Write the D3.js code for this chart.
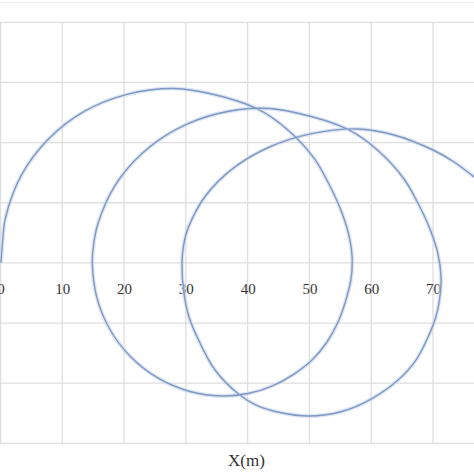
<!DOCTYPE html>
<html>
<head>
<meta charset="utf-8">
<script src="https://cdn.jsdelivr.net/npm/d3@7"></script>
<style>
  html, body { margin: 0; padding: 0; background: #ffffff; }
  svg { display: block; }
</style>
</head>
<body>
<svg id="chart" width="474" height="474"></svg>
<script>
// ---- data ----
const xTickValues = [0, 10, 20, 30, 40, 50, 60, 70];
const xTickLabels = ["0", "10", "20", "30", "40", "50", "60", "70"];
const yGridValues = [-30, -20, -10, 0, 10, 20, 30, 40];
const xAxisTitle = "X(m)";

// trajectory, X (m)
const pathX = [
  // loop 1
  0.08, 0.32, 0.81, 3.40, 7.77, 13.68, 20.48, 27.76,
  33.67, 41.60, 46.70, 50.82, 52.98, 54.79, 56.25, 56.90,
  56.73, 55.76, 54.63, 52.85, 50.42, 47.51, 43.95, 40.06, 35.85,
  30.66, 25.53, 21.11, 17.71, 15.59, 14.86,
  // loop 2
  15.10, 15.80, 18.53, 22.90, 28.58, 35.22, 42.33,
  48.15, 56.17, 61.18, 65.31, 67.46, 69.28, 70.73, 71.30,
  71.05, 70.41, 69.20, 67.25, 64.34, 60.13, 55.23, 49.93, 45.24, 41.36,
  38.52, 34.72, 32.29, 30.51, 29.62, 29.38,
  // loop 3
  29.62, 30.35, 33.17, 37.68, 43.54, 50.37, 57.70, 63.69, 70.01, 73.41, 76.64
];
// trajectory, Y (m)
const pathY = [
  // loop 1
  0.0, 3.31, 7.50, 14.62, 20.60, 25.26, 28.02, 29.00,
  28.20, 25.59, 21.93, 17.28, 13.45, 9.54, 5.15, 1.15,
  -2.69, -6.67, -9.83, -13.15, -16.15, -18.48, -20.47, -21.72, -22.13,
  -21.38, -19.17, -15.65, -11.07, -5.74, -0.02,
  // loop 2
  3.31, 6.63, 12.85, 18.17, 22.27, 24.83, 25.71,
  24.88, 22.22, 18.61, 13.95, 10.13, 6.22, 1.81, -2.34,
  -6.17, -9.16, -12.32, -16.15, -19.48, -22.55, -24.71, -25.46, -24.88, -23.63,
  -21.80, -17.81, -13.32, -9.00, -4.51, -0.02,
  // loop 3
  2.89, 5.75, 11.12, 15.75, 19.27, 21.50, 22.27, 21.27, 18.77, 16.78, 14.29
];

// ---- drawing ----
const W = 474, H = 474;
const svg = d3.select("#chart");

const x = d3.scaleLinear().domain([0, 70]).range([0.5, 433]);
const y = d3.scaleLinear().domain([0, 40]).range([262.9, 22.3]);

// top border line of chart area
svg.append("line")
  .attr("x1", 0).attr("x2", W)
  .attr("y1", 2.5).attr("y2", 2.5)
  .attr("stroke", "#ececec").attr("stroke-width", 1.2);

// grid
const gridX = d3.range(-10, 90, 10);
svg.append("g").selectAll("line").data(gridX).join("line")
  .attr("x1", d => x(d)).attr("x2", d => x(d))
  .attr("y1", y(40)).attr("y2", y(-30))
  .attr("stroke", "#dedede").attr("stroke-width", 1.3);

svg.append("g").selectAll("line").data(yGridValues).join("line")
  .attr("x1", 0).attr("x2", W)
  .attr("y1", d => y(d)).attr("y2", d => y(d))
  .attr("stroke", "#dedede").attr("stroke-width", 1.3);

// x axis labels (axis generator, line hidden)
const xAxis = d3.axisBottom(x)
  .tickValues(xTickValues)
  .tickFormat((d, i) => xTickLabels[i])
  .tickSize(0)
  .tickPadding(0);
const gAxis = svg.append("g")
  .attr("transform", `translate(0,${y(0) + 20})`)
  .call(xAxis);
gAxis.select(".domain").remove();
gAxis.selectAll("text")
  .attr("font-family", "'Liberation Serif', 'DejaVu Serif', serif")
  .attr("font-size", 15)
  .attr("fill", "#333333");

// axis title
svg.append("text")
  .attr("x", 246.5).attr("y", 466)
  .attr("text-anchor", "middle")
  .attr("font-family", "'Liberation Serif', 'DejaVu Serif', serif")
  .attr("font-size", 17)
  .attr("fill", "#333333")
  .text(xAxisTitle);

// curve
const pts = pathX.map((v, i) => [v, pathY[i]]);
const line = d3.line()
  .x(d => x(d[0]))
  .y(d => y(d[1]))
  .curve(d3.curveCatmullRom.alpha(0.5));

svg.append("path")
  .datum(pts)
  .attr("d", line)
  .attr("fill", "none")
  .attr("stroke", "#cfdbef")
  .attr("stroke-opacity", 0.7)
  .attr("stroke-width", 4);

svg.append("path")
  .datum(pts)
  .attr("d", line)
  .attr("fill", "none")
  .attr("stroke", "#7f97c3")
  .attr("stroke-width", 1.4);
</script>
</body>
</html>
